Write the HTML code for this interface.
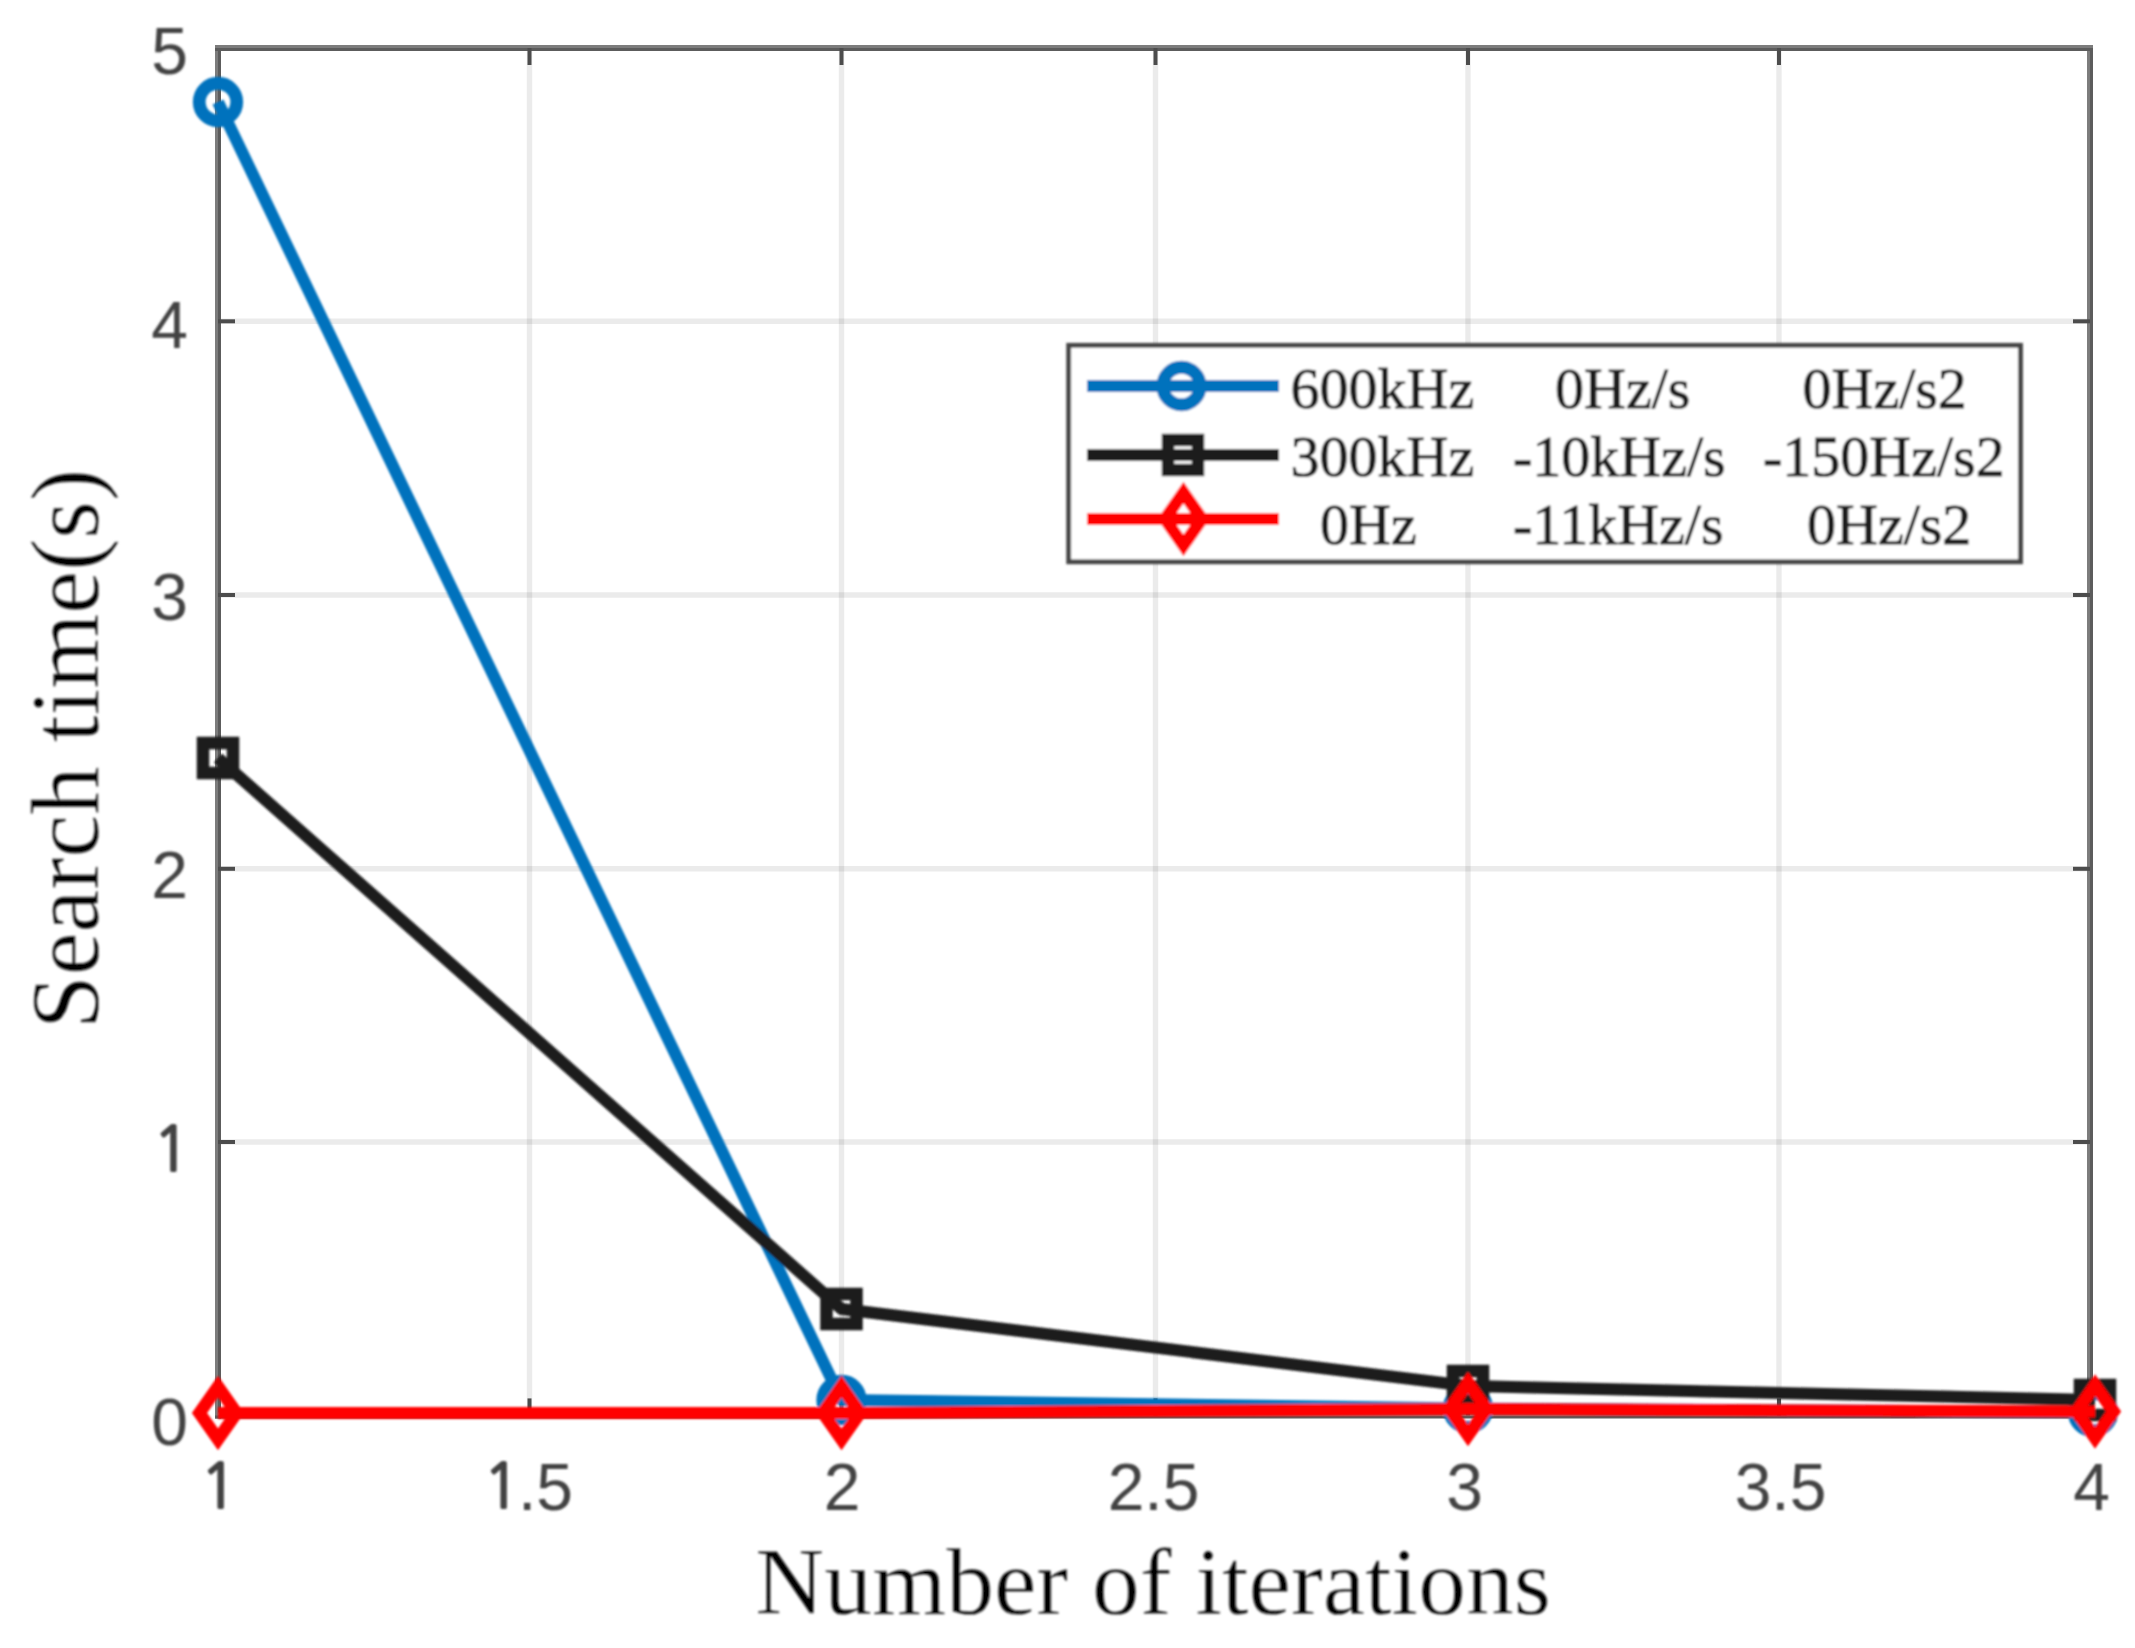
<!DOCTYPE html>
<html><head><meta charset="utf-8"><title>Search time vs iterations</title>
<style>html,body{margin:0;padding:0;background:#fff;overflow:hidden}svg{display:block}</style></head>
<body>
<svg width="2135" height="1648" viewBox="0 0 2135 1648">
<defs><filter id="soft" x="-2%" y="-2%" width="104%" height="104%"><feGaussianBlur stdDeviation="0.8"/></filter></defs>
<rect width="2135" height="1648" fill="#fff"/>
<g stroke="rgba(0,0,0,0.08)" stroke-width="5.4">
<line x1="529.5" y1="51.0" x2="529.5" y2="1412.4"/>
<line x1="841.5" y1="51.0" x2="841.5" y2="1412.4"/>
<line x1="1155.5" y1="51.0" x2="1155.5" y2="1412.4"/>
<line x1="1468.0" y1="51.0" x2="1468.0" y2="1412.4"/>
<line x1="1779.0" y1="51.0" x2="1779.0" y2="1412.4"/>
<line x1="221.0" y1="1142.0" x2="2087.0" y2="1142.0"/>
<line x1="221.0" y1="868.8" x2="2087.0" y2="868.8"/>
<line x1="221.0" y1="595.0" x2="2087.0" y2="595.0"/>
<line x1="221.0" y1="321.3" x2="2087.0" y2="321.3"/>
</g>
<g>
<line x1="216.5" y1="45.0" x2="216.5" y2="1418.4" stroke="#7c7c7c" stroke-width="3"/>
<line x1="219.5" y1="45.0" x2="219.5" y2="1418.4" stroke="#5c5c5c" stroke-width="3"/>
<line x1="2088.5" y1="45.0" x2="2088.5" y2="1418.4" stroke="#7c7c7c" stroke-width="3"/>
<line x1="2091.5" y1="45.0" x2="2091.5" y2="1418.4" stroke="#5c5c5c" stroke-width="3"/>
<line x1="215.0" y1="46.5" x2="2093.0" y2="46.5" stroke="#7c7c7c" stroke-width="3"/>
<line x1="215.0" y1="49.5" x2="2093.0" y2="49.5" stroke="#5c5c5c" stroke-width="3"/>
<line x1="215.0" y1="1413.9" x2="2093.0" y2="1413.9" stroke="#7c7c7c" stroke-width="3"/>
<line x1="215.0" y1="1416.9" x2="2093.0" y2="1416.9" stroke="#5c5c5c" stroke-width="3"/>
</g>
<g stroke="#4c4c4c" stroke-width="4">
<line x1="529.5" y1="48.0" x2="529.5" y2="65.0"/>
<line x1="529.5" y1="1415.4" x2="529.5" y2="1398.4"/>
<line x1="841.5" y1="48.0" x2="841.5" y2="65.0"/>
<line x1="841.5" y1="1415.4" x2="841.5" y2="1398.4"/>
<line x1="1155.5" y1="48.0" x2="1155.5" y2="65.0"/>
<line x1="1155.5" y1="1415.4" x2="1155.5" y2="1398.4"/>
<line x1="1468.0" y1="48.0" x2="1468.0" y2="65.0"/>
<line x1="1468.0" y1="1415.4" x2="1468.0" y2="1398.4"/>
<line x1="1779.0" y1="48.0" x2="1779.0" y2="65.0"/>
<line x1="1779.0" y1="1415.4" x2="1779.0" y2="1398.4"/>
<line x1="218.0" y1="1142.0" x2="235.0" y2="1142.0"/>
<line x1="2090.0" y1="1142.0" x2="2073.0" y2="1142.0"/>
<line x1="218.0" y1="868.8" x2="235.0" y2="868.8"/>
<line x1="2090.0" y1="868.8" x2="2073.0" y2="868.8"/>
<line x1="218.0" y1="595.0" x2="235.0" y2="595.0"/>
<line x1="2090.0" y1="595.0" x2="2073.0" y2="595.0"/>
<line x1="218.0" y1="321.3" x2="235.0" y2="321.3"/>
<line x1="2090.0" y1="321.3" x2="2073.0" y2="321.3"/>
</g>
<g filter="url(#soft)">
<g font-family="'Liberation Sans', Arial, sans-serif" font-size="66" fill="#424242">
<text x="188" y="73.5" text-anchor="end">5</text>
<text x="188" y="348" text-anchor="end">4</text>
<text x="188" y="619.5" text-anchor="end">3</text>
<text x="188" y="898" text-anchor="end">2</text>
<text x="188" y="1445" text-anchor="end">0</text>
<text x="842" y="1509.5" text-anchor="middle">2</text>
<text x="1153.5" y="1509.5" text-anchor="middle">2.5</text>
<text x="1464.5" y="1509.5" text-anchor="middle">3</text>
<text x="1780.5" y="1509.5" text-anchor="middle">3.5</text>
<text x="2091.5" y="1509.5" text-anchor="middle">4</text>
<text x="573" y="1509.5" text-anchor="end">.5</text>
</g>
<g font-family="NanumGothic, 'Liberation Sans', sans-serif" font-size="61" fill="#424242" stroke="#424242" stroke-width="2.2" text-anchor="end">
<text x="190.0" y="1170.9">1</text>
<text x="237.3" y="1508.4">1</text>
<text x="520.2" y="1508.4">1</text>
</g>
<g font-family="'Liberation Serif', 'Times New Roman', serif" fill="#000" stroke="#fff" stroke-width="0.4" paint-order="fill stroke">
<text x="1153" y="1614.3" font-size="95.5" text-anchor="middle">Number of iterations</text>
<text transform="translate(98,749) rotate(-90)" font-size="96.5" text-anchor="middle">Search time(s)</text>
</g>
<polyline points="218.0,102.0 841.5,1400.0 1468.0,1408.5 2093.0,1412.0" fill="none" stroke="#0072bd" stroke-width="12" stroke-linejoin="round"/>
<circle cx="218.0" cy="102.0" r="18.75" fill="none" stroke="#0072bd" stroke-width="12.8"/>
<circle cx="841.5" cy="1400.0" r="18.75" fill="none" stroke="#0072bd" stroke-width="12.8"/>
<circle cx="1468.0" cy="1408.5" r="18.75" fill="none" stroke="#0072bd" stroke-width="12.8"/>
<circle cx="2093.0" cy="1412.0" r="18.75" fill="none" stroke="#0072bd" stroke-width="12.8"/>
<polyline points="218.0,758.0 841.5,1309.0 1468.0,1386.0 2095.0,1400.0" fill="none" stroke="#1c1c1c" stroke-width="12" stroke-linejoin="round"/>
<rect x="203.0" y="743.0" width="30" height="30" fill="none" stroke="#1c1c1c" stroke-width="12.5"/>
<rect x="826.5" y="1294.0" width="30" height="30" fill="none" stroke="#1c1c1c" stroke-width="12.5"/>
<rect x="1453.0" y="1371.0" width="30" height="30" fill="none" stroke="#1c1c1c" stroke-width="12.5"/>
<rect x="2080.0" y="1385.0" width="30" height="30" fill="none" stroke="#1c1c1c" stroke-width="12.5"/>
<polyline points="218.0,1413.0 841.5,1413.0 1468.0,1409.0 2095.0,1411.5" fill="none" stroke="#ff0000" stroke-width="12" stroke-linejoin="round"/>
<path d="M218.0,1386.7 L236.5,1413.0 L218.0,1439.3 L199.5,1413.0 Z" fill="none" stroke="#ff0000" stroke-width="12.5" stroke-linejoin="miter"/>
<path d="M841.5,1386.7 L860.0,1413.0 L841.5,1439.3 L823.0,1413.0 Z" fill="none" stroke="#ff0000" stroke-width="12.5" stroke-linejoin="miter"/>
<path d="M1468.0,1382.7 L1486.5,1409.0 L1468.0,1435.3 L1449.5,1409.0 Z" fill="none" stroke="#ff0000" stroke-width="12.5" stroke-linejoin="miter"/>
<path d="M2095.0,1385.2 L2113.5,1411.5 L2095.0,1437.8 L2076.5,1411.5 Z" fill="none" stroke="#ff0000" stroke-width="12.5" stroke-linejoin="miter"/>
<rect x="1068.7" y="345.3" width="951.8" height="216.5" fill="#fff" stroke="#444" stroke-width="4.8"/>
<line x1="1087" y1="386" x2="1279" y2="386" stroke="#0072bd" stroke-width="12"/>
<circle cx="1181.5" cy="386.0" r="18.75" fill="none" stroke="#0072bd" stroke-width="12.8"/>
<line x1="1087" y1="455" x2="1279" y2="455" stroke="#1c1c1c" stroke-width="12"/>
<rect x="1168.0" y="440.0" width="30" height="30" fill="none" stroke="#1c1c1c" stroke-width="12.5"/>
<line x1="1087" y1="519" x2="1279" y2="519" stroke="#ff0000" stroke-width="12"/>
<path d="M1183.5,492.7 L1202.0,519.0 L1183.5,545.3 L1165.0,519.0 Z" fill="none" stroke="#ff0000" stroke-width="12.5" stroke-linejoin="miter"/>
<g font-family="'Liberation Serif', 'Times New Roman', serif" font-size="58" fill="#1c1c1c" stroke="#1c1c1c" stroke-width="0.9">
<text x="1290.5" y="407.5">600kHz</text>
<text x="1555" y="407.5">0Hz/s</text>
<text x="1802.5" y="407.5">0Hz/s2</text>
<text x="1290.5" y="475.5">300kHz</text>
<text x="1513" y="475.5">-10kHz/s</text>
<text x="1763" y="475.5">-150Hz/s2</text>
<text x="1320" y="543.5">0Hz</text>
<text x="1513" y="543.5">-11kHz/s</text>
<text x="1807" y="543.5">0Hz/s2</text>
</g>
</g>
</svg>
</body></html>
